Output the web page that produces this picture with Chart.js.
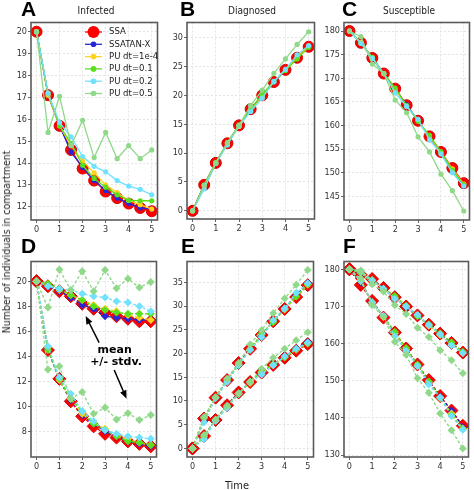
<!DOCTYPE html>
<html>
<head>
<meta charset="utf-8">
<script src="https://cdn.jsdelivr.net/npm/chart.js@4.4.0/dist/chart.umd.min.js"></script>
<style>
body { margin: 0; background: #fff; }
#wrap { position: relative; width: 474px; height: 490px; overflow: hidden; font-family: "DejaVu Sans Condensed", "DejaVu Sans", sans-serif; color: #222; }
canvas { position: absolute; }
.letter { position: absolute; font: bold 21px "Liberation Sans", Arial, sans-serif; line-height: 21px; color: #000; }
.title { position: absolute; font-size: 10px; line-height: 14px; transform: translateX(-50%); white-space: nowrap; }
#ylab { position: absolute; left: 6px; top: 242px; font-size: 10.5px; white-space: nowrap; transform: translate(-50%, -50%) rotate(-90deg); }
#xlab { position: absolute; left: 237px; top: 479px; font-size: 11px; transform: translateX(-50%); }
</style>
</head>
<body>
<div id="wrap">
  <canvas id="cA"></canvas><canvas id="cB"></canvas><canvas id="cC"></canvas>
  <canvas id="cD"></canvas><canvas id="cE"></canvas><canvas id="cF"></canvas>
  <div class="letter" style="left:21px;top:-2px">A</div>
  <div class="letter" style="left:180px;top:-2px">B</div>
  <div class="letter" style="left:342px;top:-2px">C</div>
  <div class="letter" style="left:21px;top:235px">D</div>
  <div class="letter" style="left:181px;top:235px">E</div>
  <div class="letter" style="left:343px;top:235px">F</div>
  <div class="title" style="left:96px;top:4px">Infected</div>
  <div class="title" style="left:252px;top:4px">Diagnosed</div>
  <div class="title" style="left:409px;top:4px">Susceptible</div>
  <div id="ylab">Number of individuals in compartment</div>
  <div id="xlab">Time</div>
</div>
<script>
var times = [0, 0.5, 1, 1.5, 2, 2.5, 3, 3.5, 4, 4.5, 5];
var seriesNames = ['SSA', 'SSATAN-X', 'PU dt=1e-4', 'PU dt=0.1', 'PU dt=0.2', 'PU dt=0.5'];
var seriesColors = ['#ff0000', '#2626d6', '#ffd21c', '#58e01c', '#70e2ff', '#90d98a'];

// rows follow seriesNames order
var infected = [
    [20, 17.1, 15.7, 14.6, 13.75, 13.2, 12.7, 12.4, 12.15, 11.95, 11.8],
    [20, 17.1, 15.7, 14.5, 13.8, 13.2, 12.75, 12.4, 12.15, 11.95, 11.9],
    [20, 17.1, 15.7, 14.8, 14.1, 13.55, 13.0, 12.65, 12.3, 12.1, 11.9],
    [20, 17.2, 15.7, 14.9, 13.9, 13.3, 12.9, 12.55, 12.3, 12.28, 12.28],
    [20, 17.2, 15.85, 15.2, 14.3, 13.85, 13.6, 13.2, 12.95, 12.8, 12.55],
    [20, 15.4, 17.05, 14.8, 15.95, 14.25, 15.4, 14.2, 14.8, 14.2, 14.6]
];
var diagnosed = [
    [0, 4.5, 8.3, 11.7, 14.8, 17.6, 20.0, 22.3, 24.4, 26.5, 28.4],
    [0, 4.5, 8.3, 11.7, 14.8, 17.4, 19.9, 22.2, 24.4, 26.6, 28.4],
    [0, 4.4, 8.3, 11.6, 14.6, 17.3, 19.8, 22.3, 24.4, 26.6, 28.5],
    [0, 4.5, 8.4, 11.8, 14.9, 17.6, 20.2, 22.4, 24.3, 26.3, 28.3],
    [0, 3.8, 8.2, 11.4, 14.7, 17.2, 19.5, 22.4, 24.5, 27.0, 28.6],
    [0, 4.4, 8.3, 11.8, 14.8, 18.2, 20.9, 23.8, 26.3, 28.8, 31.0]
];
var susceptible = [
    [180, 177.5, 174.3, 171.0, 167.8, 164.3, 161.0, 157.7, 154.4, 151.0, 147.8],
    [180, 177.6, 174.2, 171.0, 167.7, 164.4, 161.0, 157.6, 154.2, 150.6, 147.4],
    [180, 177.6, 174.3, 171.0, 167.6, 164.2, 161.0, 157.7, 154.3, 150.8, 147.6],
    [180, 177.4, 174.4, 171.0, 167.9, 164.2, 160.9, 157.9, 154.5, 150.5, 147.5],
    [180, 177.4, 174.2, 171.0, 166.9, 164.0, 161.3, 157.0, 154.0, 150.0, 147.2],
    [180, 178.8, 173.0, 171.0, 165.4, 162.7, 157.6, 154.4, 149.7, 146.2, 141.9]
];

// mean + stdv / mean - stdv
var infectedUp = [
    [20, 19.6, 19.2, 18.8, 18.2, 17.8, 17.5, 17.2, 17.0, 16.8, 16.8],
    [20, 19.6, 19.2, 18.7, 18.1, 17.8, 17.2, 17.1, 17.0, 16.9, 16.9],
    [20, 19.7, 19.3, 18.9, 18.5, 18.1, 17.8, 17.6, 17.3, 17.1, 16.9],
    [20, 19.8, 19.4, 18.9, 18.5, 18.0, 17.7, 17.5, 17.4, 17.4, 17.4],
    [20, 19.6, 19.4, 19.3, 19.0, 18.8, 18.7, 18.4, 18.3, 18.0, 17.6],
    [20, 17.9, 20.95, 19.3, 20.8, 19.2, 20.9, 19.45, 20.2, 19.5, 19.95]
];
var infectedLow = [
    [20, 14.5, 12.2, 10.4, 9.2, 8.4, 7.8, 7.5, 7.2, 7.0, 6.8],
    [20, 14.6, 12.1, 10.5, 9.3, 8.6, 8.0, 7.6, 7.2, 7.0, 6.8],
    [20, 14.7, 12.1, 10.6, 9.4, 8.7, 8.2, 7.7, 7.4, 7.1, 6.9],
    [20, 14.5, 12.2, 10.6, 9.6, 8.6, 8.1, 7.6, 7.2, 7.1, 6.9],
    [20, 14.8, 12.3, 11.0, 9.6, 8.8, 8.1, 7.8, 7.6, 7.5, 7.4],
    [20, 12.95, 13.2, 10.6, 11.15, 9.4, 9.9, 8.95, 9.45, 8.9, 9.3]
];
var diagnosedUp = [
    [0, 6.3, 10.7, 14.4, 18.0, 21.0, 23.9, 26.8, 29.4, 31.9, 34.4],
    [0, 6.2, 10.6, 14.3, 17.8, 20.9, 23.7, 26.9, 29.5, 32.2, 34.8],
    [0, 6.4, 10.7, 14.4, 17.7, 20.8, 24.0, 26.7, 29.3, 32.0, 34.5],
    [0, 6.5, 10.8, 14.5, 17.5, 20.9, 24.2, 26.6, 29.5, 32.0, 34.6],
    [0, 5.5, 10.6, 14.0, 17.6, 20.8, 23.4, 27.0, 29.5, 32.8, 34.8],
    [0, 6.6, 10.8, 14.7, 18.0, 21.9, 24.9, 28.5, 31.6, 34.5, 37.6]
];
var diagnosedLow = [
    [0, 2.6, 6.0, 9.1, 11.8, 14.0, 16.0, 17.6, 19.1, 20.6, 22.0],
    [0, 2.6, 6.0, 9.0, 11.7, 14.0, 15.8, 17.7, 19.4, 21.0, 22.4],
    [0, 2.5, 5.9, 8.8, 11.6, 13.8, 15.9, 17.6, 19.2, 20.8, 22.1],
    [0, 2.5, 6.0, 8.9, 11.5, 14.1, 16.2, 17.7, 19.2, 20.9, 22.1],
    [0, 2.0, 5.8, 8.5, 11.5, 14.0, 15.6, 17.5, 19.4, 21.0, 22.3],
    [0, 2.8, 6.1, 9.0, 11.5, 14.0, 16.8, 19.1, 21.0, 22.8, 24.5]
];
var susceptibleUp = [
    [180, 178.5, 177.4, 175.0, 172.5, 170.0, 167.6, 165.1, 162.7, 160.2, 157.6],
    [180, 178.8, 177.2, 174.8, 172.3, 169.8, 167.4, 165.0, 162.6, 160.0, 157.7],
    [180, 179.0, 177.0, 174.6, 172.4, 170.0, 167.5, 164.8, 162.3, 159.8, 157.5],
    [180, 179.2, 177.2, 174.8, 172.8, 170.2, 167.4, 165.2, 162.8, 160.4, 157.8],
    [180, 179.5, 177.0, 174.8, 172.0, 170.0, 167.8, 165.0, 162.5, 159.5, 157.5],
    [180, 179.7, 176.0, 174.0, 170.3, 168.0, 164.3, 161.8, 158.2, 155.5, 152.0]
];
var susceptibleLow = [
    [180, 175.8, 171.5, 167.0, 163.0, 158.7, 154.4, 150.2, 145.9, 142.0, 137.9],
    [180, 176.5, 171.3, 167.3, 162.6, 158.5, 154.2, 149.8, 145.7, 142.0, 137.5],
    [180, 176.8, 171.2, 167.2, 162.8, 158.4, 154.0, 149.6, 145.4, 141.2, 137.2],
    [180, 177.0, 171.0, 167.4, 163.2, 158.8, 154.4, 149.8, 145.6, 140.8, 137.0],
    [180, 177.0, 171.0, 167.5, 162.0, 158.0, 154.0, 149.0, 145.5, 140.5, 136.8],
    [180, 177.5, 170.3, 167.2, 160.5, 157.0, 150.7, 146.8, 141.2, 136.7, 131.8]
];

var xTicks = [0, 1, 2, 3, 4, 5];
var ticksA = [12, 13, 14, 15, 16, 17, 18, 19, 20];
var ticksB = [0, 5, 10, 15, 20, 25, 30];
var ticksC = [145, 150, 155, 160, 165, 170, 175, 180];
var ticksD = [8, 10, 12, 14, 16, 18, 20];
var ticksE = [0, 5, 10, 15, 20, 25, 30, 35];
var ticksF = [130, 140, 150, 160, 170, 180];

var tickFont = { family: '"DejaVu Sans Condensed", "DejaVu Sans", sans-serif', size: 9 };

function toPoints(row) {
    return row.map(function (v, k) { return { x: times[k], y: v }; });
}

function lineSet(row, i, diamond) {
    var big = i === 0;
    return {
        label: seriesNames[i],
        data: toPoints(row),
        order: 6 - i,
        borderColor: seriesColors[i],
        backgroundColor: seriesColors[i],
        borderWidth: diamond ? 1.4 : 1.3,
        borderDash: diamond ? [3, 2] : [],
        pointStyle: diamond ? 'rectRot' : 'circle',
        pointRadius: diamond ? (big ? 6.5 : 4) : (big ? 5.5 : 2.6),
        pointBorderWidth: big ? 1 : 0,
        pointBorderColor: big ? '#d80000' : seriesColors[i],
        pointBackgroundColor: seriesColors[i],
        tension: 0
    };
}

function simpleSets(rows) {
    return rows.map(function (row, i) { return lineSet(row, i, false); });
}

function bandSets(up, low) {
    var out = [];
    up.forEach(function (row, i) {
        out.push(lineSet(row, i, true));
        out.push(lineSet(low[i], i, true));
    });
    return out;
}

// box frame round the plot area
var framePlugin = {
    id: 'frame',
    afterDatasetsDraw: function (chart) {
        var a = chart.chartArea, ctx = chart.ctx;
        ctx.save();
        ctx.strokeStyle = '#5a5a5a';
        ctx.lineWidth = 1.6;
        ctx.strokeRect(a.left, a.top, a.right - a.left, a.bottom - a.top);
        ctx.restore();
    }
};

// legend drawn inside panel A
var legendPlugin = {
    id: 'inLegend',
    afterDraw: function (chart) {
        var a = chart.chartArea, ctx = chart.ctx;
        ctx.save();
        ctx.font = '9.5px "DejaVu Sans Condensed", "DejaVu Sans", sans-serif';
        ctx.textBaseline = 'middle';
        chart.data.datasets.forEach(function (ds, i) {
            var y = a.top + 9.5 + i * 12.3;
            var x0 = a.left + 54, x1 = a.left + 71;
            ctx.strokeStyle = ds.borderColor;
            ctx.lineWidth = 1.3;
            ctx.beginPath(); ctx.moveTo(x0, y); ctx.lineTo(x1, y); ctx.stroke();
            ctx.fillStyle = ds.pointBackgroundColor;
            ctx.beginPath(); ctx.arc((x0 + x1) / 2, y, i === 0 ? 6 : 2.8, 0, Math.PI * 2); ctx.fill();
            ctx.fillStyle = '#222';
            ctx.fillText(ds.label, a.left + 78, y);
        });
        ctx.restore();
    }
};

// arrows and note in panel D
var arrowList = [
    { from: [2.74, 15.1], to: [2.15, 17.23] },
    { from: [3.4, 12.9], to: [3.94, 10.6] }
];
var noteLines = ['mean', '+/- stdv.'];
var noteAt = [[3.42, 14.5], [3.48, 13.55]];

var notePlugin = {
    id: 'note',
    afterDraw: function (chart) {
        var ctx = chart.ctx, sx = chart.scales.x, sy = chart.scales.y;
        ctx.save();
        ctx.strokeStyle = '#000';
        ctx.fillStyle = '#000';
        ctx.lineWidth = 1.5;
        arrowList.forEach(function (ar) {
            var x1 = sx.getPixelForValue(ar.from[0]), y1 = sy.getPixelForValue(ar.from[1]);
            var x2 = sx.getPixelForValue(ar.to[0]), y2 = sy.getPixelForValue(ar.to[1]);
            var ang = Math.atan2(y2 - y1, x2 - x1);
            ctx.beginPath(); ctx.moveTo(x1, y1);
            ctx.lineTo(x2 - 6 * Math.cos(ang), y2 - 6 * Math.sin(ang)); ctx.stroke();
            ctx.beginPath();
            ctx.moveTo(x2, y2);
            ctx.lineTo(x2 - 9 * Math.cos(ang - 0.38), y2 - 9 * Math.sin(ang - 0.38));
            ctx.lineTo(x2 - 9 * Math.cos(ang + 0.38), y2 - 9 * Math.sin(ang + 0.38));
            ctx.closePath(); ctx.fill();
        });
        ctx.font = 'bold 11px "DejaVu Sans", sans-serif';
        ctx.textAlign = 'center';
        ctx.textBaseline = 'middle';
        noteLines.forEach(function (t, k) {
            ctx.fillText(t, sx.getPixelForValue(noteAt[k][0]), sy.getPixelForValue(noteAt[k][1]));
        });
        ctx.restore();
    }
};

function makePanel(id, box, sets, yMin, yMax, yTicks, extra) {
    var cv = document.getElementById(id);
    cv.width = box.right - box.left + 33;
    cv.height = box.bottom - box.top + 21;
    cv.style.left = (box.left - 30) + 'px';
    cv.style.top = (box.top - 3) + 'px';
    return new Chart(cv, {
        type: 'line',
        data: { datasets: sets },
        options: {
            responsive: false,
            animation: false,
            layout: { padding: { top: 3, right: 3, left: 0, bottom: 0 } },
            plugins: { legend: { display: false }, tooltip: { enabled: false } },
            scales: {
                x: {
                    type: 'linear', min: -0.24, max: 5.25,
                    afterBuildTicks: function (s) { s.ticks = xTicks.map(function (v) { return { value: v }; }); },
                    afterFit: function (s) { s.height = 18; s.paddingLeft = 0; s.paddingRight = 0; },
                    grid: { color: '#e4e4e4', tickLength: 3, tickColor: '#666' },
                    border: { display: false, dash: [2, 2] },
                    ticks: { font: tickFont, color: '#333', padding: 1, maxRotation: 0, autoSkip: false }
                },
                y: {
                    type: 'linear', min: yMin, max: yMax,
                    afterBuildTicks: function (s) { s.ticks = yTicks.map(function (v) { return { value: v }; }); },
                    afterFit: function (s) { s.width = 30; s.paddingTop = 0; s.paddingBottom = 0; },
                    grid: { color: '#e4e4e4', tickLength: 3, tickColor: '#666' },
                    border: { display: false, dash: [2, 2] },
                    ticks: { font: tickFont, color: '#333', padding: 1, autoSkip: false }
                }
            }
        },
        plugins: [framePlugin].concat(extra || [])
    });
}

makePanel('cA', { left: 31, top: 19, right: 161, bottom: 220 }, simpleSets(infected), 11.4, 20.42, ticksA, [legendPlugin]);
makePanel('cB', { left: 187, top: 19, right: 318, bottom: 219 }, simpleSets(diagnosed), -1.41, 32.6, ticksB);
makePanel('cC', { left: 344, top: 19, right: 473, bottom: 220 }, simpleSets(susceptible), 140.0, 181.8, ticksC);
makePanel('cD', { left: 31, top: 257, right: 161, bottom: 457 }, bandSets(infectedUp, infectedLow), 5.95, 21.58, ticksD, [notePlugin]);
makePanel('cE', { left: 187, top: 257, right: 318, bottom: 457 }, bandSets(diagnosedUp, diagnosedLow), -1.81, 39.39, ticksE);
makePanel('cF', { left: 344, top: 257, right: 473, bottom: 457 }, bandSets(susceptibleUp, susceptibleLow), 129.5, 182.1, ticksF);
</script>
</body>
</html>
